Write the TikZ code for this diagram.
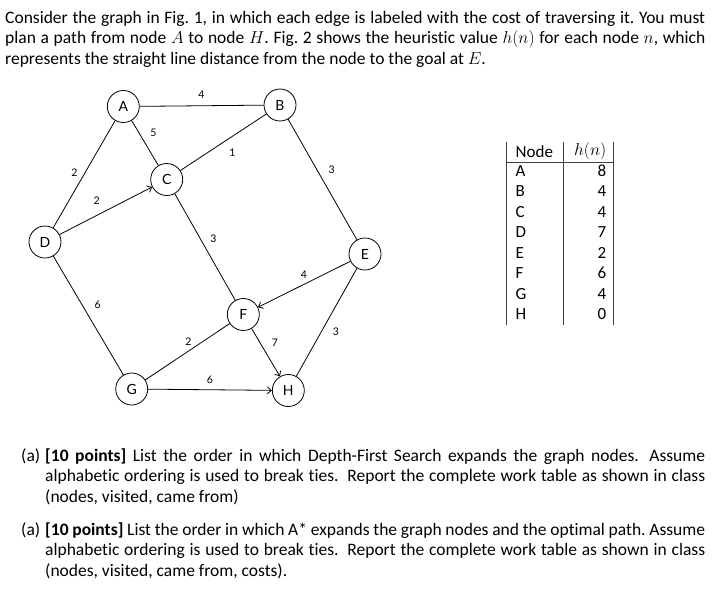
\documentclass[tikz,border=0pt]{standalone}
\usepackage{fontspec}
\setmainfont{Carlito}[Ligatures=NoCommon]
\newfontfamily\graphfont{Lato}
\usetikzlibrary{arrows.meta}
\frenchspacing
\begin{document}
\begin{tikzpicture}[x=1pt,y=-1pt,
  vert/.style={circle,draw,line width=0.8pt,minimum size=32pt,inner sep=0pt,font=\graphfont\fontsize{14}{16}\selectfont},
  edge/.style={line width=0.8pt},
  arr/.style={edge,-{Straight Barb[length=4pt,width=7pt]}},
  cost/.style={inner sep=0pt,font=\graphfont\fontsize{10.5}{12}\selectfont},
  txt/.style={anchor=base west,inner sep=0pt,font=\fontsize{17.5}{20}\selectfont},
  cell/.style={inner sep=0pt,font=\fontsize{17}{20}\selectfont},
  rule/.style={line width=0.8pt,black!75}
  ]
\useasboundingbox (0,0) rectangle (719,594);

% intro text
\node[txt] (t1) at (5,23.3) {\makebox[700pt][s]{Consider the graph in Fig. 1, in which each edge is labeled with the cost of traversing it. You must}};
\node[txt] (t2) at (5,44) {\makebox[700pt][s]{plan a path from node $A$ to node $H$. Fig. 2 shows the heuristic value $h(n)$ for each node $n$, which}};
\node[txt] (t3) at (5,64.5) {represents the straight line distance from the node to the goal at $E$.};

% graph
\node[vert] (A) at (123.3,106.5) {A};
\node[vert] (B) at (280,105) {B};
\node[vert] (C) at (166.7,179.5) {C};
\node[vert] (D) at (45,242) {D};
\node[vert] (E) at (365,254) {E};
\node[vert] (F) at (243.3,314.5) {F};
\node[vert] (G) at (131.7,389) {G};
\node[vert] (H) at (288.3,390.5) {H};

\draw[edge] (A) -- (B);
\draw[edge] (A) -- (C);
\draw[edge] (A) -- (D);
\draw[arr] (D) -- (C);
\draw[edge] (B) -- (C);
\draw[edge] (B) -- (E);
\draw[edge] (C) -- (F);
\draw[arr] (E) -- (F);
\draw[edge] (D) -- (G);
\draw[edge] (G) -- (F);
\draw[arr] (F) -- (H);
\draw[arr] (G) -- (H);
\draw[edge] (E) -- (H);

\node[cost] (cAB) at (201.5,95) {4};
\node[cost] (cAC) at (153.3,132.7) {5};
\node[cost] (cAD) at (74.3,172.7) {2};
\node[cost] (cDC) at (96.7,200.7) {2};
\node[cost] (cBC) at (232.3,152.7) {1};
\node[cost] (cBE) at (331.7,169.3) {3};
\node[cost] (cCF) at (213.3,238.3) {3};
\node[cost] (cEF) at (304,275) {4};
\node[cost] (cDG) at (97.7,304.3) {6};
\node[cost] (cGF) at (188.3,341.7) {2};
\node[cost] (cFH) at (275,342.7) {7};
\node[cost] (cEH) at (336,331.7) {3};
\node[cost] (cGH) at (210,380) {6};

% table
\draw[rule] (506.7,141.7) -- (506.7,325);
\draw[rule] (563.3,141.7) -- (563.3,325);
\draw[rule] (613.3,141.7) -- (613.3,325);
\draw[rule] (506.7,162.3) -- (613.3,162.3);
\node[cell,anchor=west] (hN) at (515.5,151.5) {Node};
\node[cell,anchor=east] (hh) at (606.5,151.5) {$h(n)$};
\foreach \n/\v [count=\i from 0] in {A/8,B/4,C/4,D/7,E/2,F/6,G/4,H/0}{
  \node[cell,anchor=west] (r\n) at (515.5,171+20.43*\i) {\n};
  \node[cell,anchor=east] (v\n) at (606.5,171+20.43*\i) {\v};
}

% questions
\node[txt] (q1a) at (21,461) {\makebox[684pt][s]{(a)\hspace{5pt}\textbf{[10 points]} List the order in which Depth-First Search expands the graph nodes.\hspace{4pt} Assume}};
\node[txt] (q1b) at (45,481.5) {\makebox[660pt][s]{alphabetic ordering is used to break ties.\hspace{4pt} Report the complete work table as shown in class}};
\node[txt] (q1c) at (45,502) {(nodes, visited, came from)};
\node[txt] (q2a) at (21,535) {\makebox[684pt][s]{(a)\hspace{5pt}\textbf{[10 points]} List the order in which A* expands the graph nodes and the optimal path. Assume}};
\node[txt] (q2b) at (45,555.5) {\makebox[660pt][s]{alphabetic ordering is used to break ties.\hspace{4pt} Report the complete work table as shown in class}};
\node[txt] (q2c) at (45,576) {(nodes, visited, came from, costs).};
\end{tikzpicture}
\end{document}
